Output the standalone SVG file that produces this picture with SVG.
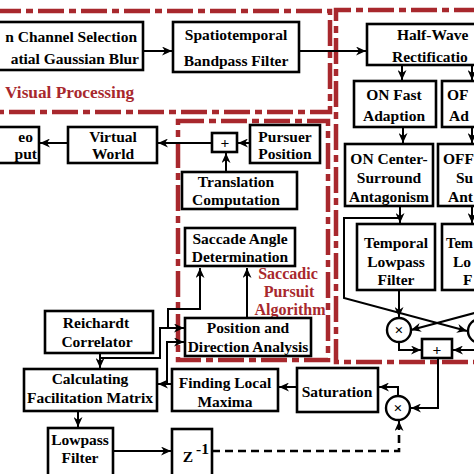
<svg xmlns="http://www.w3.org/2000/svg" width="474" height="474" viewBox="0 0 474 474">
<style>
.b{fill:#fff;stroke:#000;stroke-width:2.6}
.t{font-family:"Liberation Serif","Times New Roman",serif;font-weight:bold;font-size:15.5px;fill:#000;text-anchor:middle}
.s{text-anchor:start}.e{text-anchor:end}
.r{fill:none;stroke:#a8282d;stroke-width:4.5;stroke-dasharray:26 5 7 5}
.rl{font-family:"Liberation Serif","Times New Roman",serif;font-weight:bold;fill:#a8282d}
.c{fill:none;stroke:#000;stroke-width:2}
.d{fill:none;stroke:#000;stroke-width:2.6;stroke-dasharray:8 5}
.a{marker-end:url(#ah)}
.o{fill:#fff;stroke:#000;stroke-width:2.4}
</style>
<defs>
<marker id="ah" markerWidth="11" markerHeight="9" refX="10" refY="4.5" orient="auto" markerUnits="userSpaceOnUse">
<path d="M0,0 L10,4.5 L0,9 L3,4.5 z" fill="#000"/>
</marker>
</defs>
<g id="regions">
<path class="r" d="M-5,11 H330 V112 H-5"/>
<path class="r" d="M480,10 H336 V362 H480"/>
<rect class="r" x="178" y="121" width="150" height="239"/>
<text class="rl" x="5" y="98" font-size="17.3">Visual Processing</text>
<text class="rl" x="288" y="279" font-size="16" text-anchor="middle">Saccadic</text>
<text class="rl" x="289" y="297" font-size="16" text-anchor="middle">Pursuit</text>
<text class="rl" x="290" y="315" font-size="16" text-anchor="middle">Algorithm</text>
</g>
<g id="connectors">
<line class="c a" x1="143" y1="51" x2="172" y2="51"/>
<line class="c a" x1="299" y1="51" x2="366" y2="51"/>
<line class="c a" x1="402" y1="65" x2="402" y2="80"/>
<line class="c a" x1="472" y1="65" x2="472" y2="80"/>
<line class="c a" x1="403" y1="127" x2="403" y2="143"/>
<line class="c a" x1="472" y1="127" x2="472" y2="143"/>
<line class="c a" x1="400" y1="206" x2="400" y2="223"/>
<line class="c a" x1="472" y1="206" x2="472" y2="223"/>
<polyline class="c a" points="400,218 344,218 344,298 467,331"/>
<line class="c a" x1="482" y1="311" x2="411" y2="330"/>
<line class="c a" x1="399" y1="290" x2="399" y2="317"/>
<polyline class="c a" points="399,342 399,350 421,350"/>
<line class="c a" x1="478" y1="350" x2="453" y2="350"/>
<polyline class="c a" points="438,358 438,408 411,408"/>
<polyline class="c a" points="398,396 398,387 379,387"/>
<line class="c a" x1="297" y1="387" x2="279" y2="387"/>
<line class="c a" x1="172" y1="384" x2="158" y2="384"/>
<polyline class="c a" points="167,384 167,342 184,342"/>
<line class="c a" x1="100" y1="353" x2="100" y2="368"/>
<polyline class="c a" points="100,358 160,358 160,328 184,328"/>
<polyline class="c a" points="168,328 168,309 200,309 200,268"/>
<line class="c a" x1="247" y1="318" x2="247" y2="268"/>
<line class="c a" x1="78" y1="411" x2="78" y2="427"/>
<line class="c a" x1="113" y1="451" x2="171" y2="451"/>
<polyline class="d" points="212,451 399,451 399,428"/>
<line class="c a" x1="399" y1="430" x2="399" y2="421"/>
<line class="c a" x1="250" y1="143" x2="238" y2="143"/>
<line class="c a" x1="226" y1="172" x2="226" y2="153"/>
<line class="c a" x1="212" y1="143" x2="158" y2="143"/>
<line class="c a" x1="68" y1="143" x2="40" y2="143"/>
</g>
<g id="gaussian">
<rect class="b" x="-5" y="22" width="148" height="48"/>
<text class="t e" x="137" y="42">n Channel Selection</text>
<text class="t e" x="139" y="64">atial Gaussian Blur</text>
</g>
<g id="bandpass">
<rect class="b" x="173" y="22" width="126" height="50"/>
<text class="t" x="236" y="40">Spatiotemporal</text>
<text class="t" x="236" y="66">Bandpass Filter</text>
</g>
<g id="halfwave">
<rect class="b" x="367" y="24" width="120" height="41"/>
<text class="t s" x="397" y="40" font-size="17">Half-Wave</text>
<text class="t s" x="392" y="62" font-size="17">Rectificatio</text>
</g>
<g id="onfast">
<rect class="b" x="354" y="81" width="82" height="46"/>
<text class="t" x="394" y="100" font-size="18">ON Fast</text>
<text class="t" x="394" y="121" font-size="18">Adaption</text>
</g>
<g id="offfast">
<rect class="b" x="442" y="81" width="82" height="46"/>
<text class="t s" x="447" y="100" font-size="18">OF</text>
<text class="t s" x="449" y="121" font-size="18">Ad</text>
</g>
<g id="oncenter">
<rect class="b" x="345" y="144" width="88" height="62"/>
<text class="t" x="389" y="164" font-size="16">ON Center-</text>
<text class="t" x="389" y="183" font-size="16">Surround</text>
<text class="t" x="389" y="202" font-size="16">Antagonism</text>
</g>
<g id="offcenter">
<rect class="b" x="438" y="144" width="90" height="62"/>
<text class="t s" x="443" y="164" font-size="16">OFF</text>
<text class="t s" x="456" y="183" font-size="16">Su</text>
<text class="t s" x="448" y="202" font-size="16">Ant</text>
</g>
<g id="ontemporal">
<rect class="b" x="357" y="224" width="78" height="66"/>
<text class="t" x="396" y="248">Temporal</text>
<text class="t" x="396" y="267">Lowpass</text>
<text class="t" x="396" y="285">Filter</text>
</g>
<g id="offtemporal">
<rect class="b" x="442" y="224" width="80" height="66"/>
<text class="t s" x="446" y="248" textLength="27" lengthAdjust="spacingAndGlyphs">Tem</text>
<text class="t s" x="453" y="267">Lo</text>
<text class="t s" x="463" y="285">F</text>
</g>
<g id="onmult">
<circle class="o" cx="399" cy="330" r="12"/>
<text class="t" x="399" y="335" font-size="14" font-weight="normal">×</text>
</g>
<g id="offmult">
<circle class="o" cx="480" cy="331" r="12"/>
</g>
<g id="sum">
<rect class="b" x="422" y="339" width="30" height="19"/>
<text class="t" x="437" y="355" font-size="18" font-weight="normal">+</text>
</g>
<g id="mult2">
<circle class="o" cx="398" cy="408" r="12"/>
<text class="t" x="398" y="413" font-size="14" font-weight="normal">×</text>
</g>
<g id="saturation">
<rect class="b" x="297" y="368" width="81" height="44"/>
<text class="t" x="337" y="397" font-size="16">Saturation</text>
</g>
<g id="finding">
<rect class="b" x="172" y="369" width="106" height="42"/>
<text class="t" x="225" y="388" font-size="16">Finding Local</text>
<text class="t" x="225" y="407" font-size="16">Maxima</text>
</g>
<g id="calc">
<rect class="b" x="24" y="369" width="133" height="42"/>
<text class="t" x="90" y="384">Calculating</text>
<text class="t" x="90" y="403">Facilitation Matrix</text>
</g>
<g id="lowpass">
<rect class="b" x="48" y="428" width="65" height="50"/>
<text class="t" x="80" y="445">Lowpass</text>
<text class="t" x="80" y="463">Filter</text>
</g>
<g id="zdelay">
<rect class="b" x="172" y="429" width="40" height="50"/>
<text class="t" x="188" y="462" font-size="15">Z</text>
<text class="t s" x="196" y="454" font-size="8">-1</text>
</g>
<g id="reichardt">
<rect class="b" x="45" y="311" width="108" height="42"/>
<text class="t" x="96" y="328">Reichardt</text>
<text class="t" x="97" y="347">Correlator</text>
</g>
<g id="posdir">
<rect class="b" x="185" y="318" width="126" height="38"/>
<text class="t" x="248" y="333" font-size="14">Position and</text>
<text class="t" x="248" y="352" font-size="14">Direction Analysis</text>
</g>
<g id="saccade">
<rect class="b" x="185" y="228" width="110" height="38"/>
<text class="t" x="240" y="244">Saccade Angle</text>
<text class="t" x="240" y="262">Determination</text>
</g>
<g id="translation">
<rect class="b" x="182" y="172" width="115" height="37"/>
<text class="t" x="236" y="187">Translation</text>
<text class="t" x="236" y="205">Computation</text>
</g>
<g id="plus">
<rect class="b" x="212" y="133" width="25" height="19"/>
<text class="t" x="225" y="148" font-size="16" font-weight="normal">+</text>
</g>
<g id="pursuer">
<rect class="b" x="250" y="125" width="70" height="38"/>
<text class="t" x="285" y="142" font-size="16">Pursuer</text>
<text class="t" x="285" y="159" font-size="16">Position</text>
</g>
<g id="virtual">
<rect class="b" x="68" y="127" width="89" height="36"/>
<text class="t" x="113" y="142">Virtual</text>
<text class="t" x="113" y="159">World</text>
</g>
<g id="video">
<rect class="b" x="-5" y="127" width="44" height="36"/>
<text class="t e" x="33" y="142">eo</text>
<text class="t e" x="37" y="159">put</text>
</g>
</svg>
